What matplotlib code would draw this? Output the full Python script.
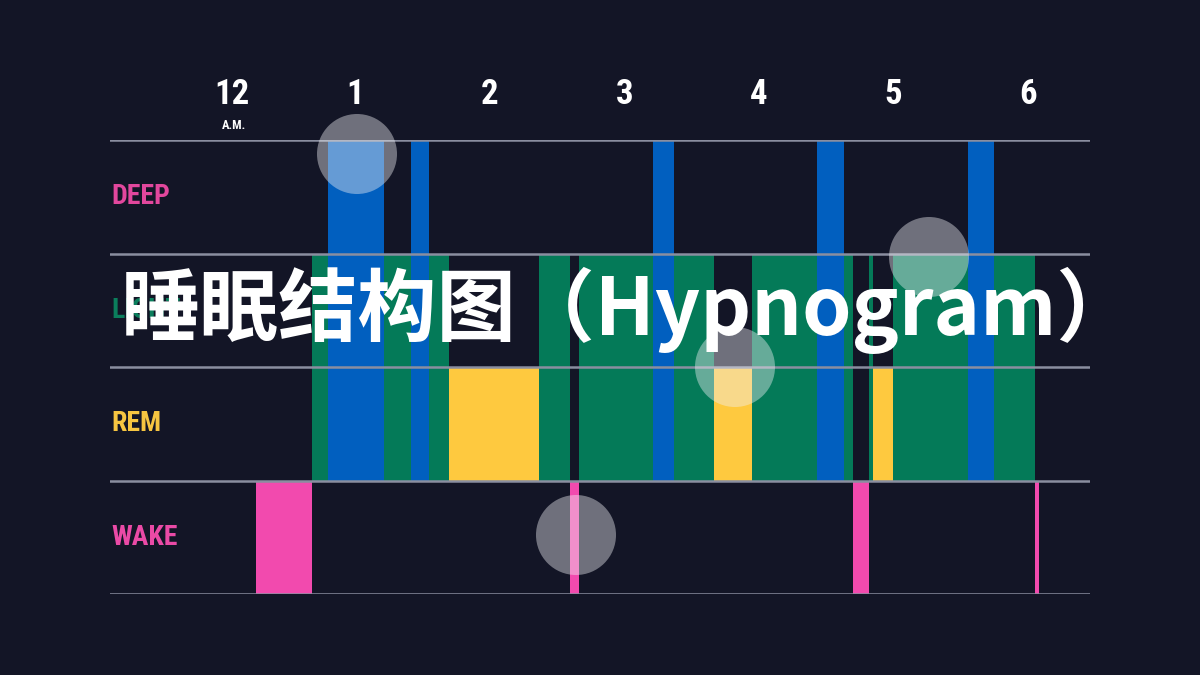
import matplotlib
matplotlib.use("Agg")
import matplotlib.pyplot as plt
from matplotlib import font_manager
from matplotlib.patches import Circle
import matplotlib.transforms as mtransforms

# --- data: sleep stage segments, minutes after midnight ---
stages = ['WAKE', 'LIGHT', 'DEEP', 'LIGHT', 'DEEP', 'LIGHT', 'REM', 'LIGHT',
          'WAKE', 'LIGHT', 'DEEP', 'LIGHT', 'REM', 'LIGHT', 'DEEP', 'LIGHT',
          'WAKE', 'LIGHT', 'REM', 'LIGHT', 'DEEP', 'LIGHT', 'WAKE']
seg_start = [16, 41, 48, 73, 85, 93, 102, 142, 156, 160, 193, 202, 220,
             237, 266, 278, 282, 289, 291, 300, 333, 345, 363]
seg_end = seg_start[1:] + [365]

row_names = ['WAKE', 'REM', 'LIGHT', 'DEEP']
hour_labels = ['12', '1', '2', '3', '4', '5', '6']
hour_ticks = [5, 60, 120, 180, 240, 300, 360]

# --- style ---
bg = '#131526'
grid_c = '#8a8ea0'
stage_colors = {'DEEP': '#015fbf', 'LIGHT': '#047a58', 'REM': '#fec93f', 'WAKE': '#f24aae'}
label_colors = {'DEEP': '#e2479d', 'LIGHT': '#0b7e5c', 'REM': '#f6c541', 'WAKE': '#ea4aa6'}

names = {f.name for f in font_manager.fontManager.ttflist}
cond = 'DejaVu Sans'
for cand in ['Liberation Sans Narrow', 'Roboto Condensed', 'Open Sans Condensed']:
    if cand in names:
        cond = cand
        break

fig = plt.figure(figsize=(12, 6.75), dpi=100)
fig.patch.set_facecolor(bg)
ax = fig.add_axes([110 / 1200, 1 - 594 / 675, 980 / 1200, 454 / 675])
ax.set_facecolor(bg)
ax.set_xlim(-49.2, 387.6)
ax.set_ylim(0, 4)
ax.axis('off')

# row boundaries
for y in range(5):
    ax.axhline(y, color=grid_c, lw=1.8, zorder=3)

# stage bars: sleep stages fill down to the wake line, wake fills its own row
for st, s, e in zip(stages, seg_start, seg_end):
    top = row_names.index(st) + 1
    bottom = 0 if st == 'WAKE' else 1
    ax.bar(s, top - bottom, width=e - s, bottom=bottom, align='edge',
           color=stage_colors[st], linewidth=0, zorder=2)

# row labels
for i, name in enumerate(row_names):
    ax.text(-48.5, i + 0.5, name, color=label_colors[name], fontsize=20,
            family=cond, fontweight='bold', ha='left', va='center')

# hour labels
trans = mtransforms.blended_transform_factory(ax.transData, ax.transAxes)
for t, lab in zip(hour_ticks, hour_labels):
    ax.text(t, 1.1, lab, color='white', fontsize=25, family=cond,
            fontweight='bold', ha='center', va='center', transform=trans)
ax.text(hour_ticks[0] + 1, 1.032, 'A.M.', color='white', fontsize=9, family=cond,
        fontweight='bold', ha='center', va='center', transform=trans)

# touch-indicator circles (overlay in pixel space)
ov = fig.add_axes([0, 0, 1, 1], zorder=5)
ov.set_xlim(0, 1200)
ov.set_ylim(675, 0)
ov.axis('off')
ov.patch.set_alpha(0)
for cx, cy in [(357, 154), (929, 257), (735, 367), (576, 535)]:
    ov.add_patch(Circle((cx, cy), 40, facecolor='#f0f0f5', alpha=0.42, lw=0))

# title overlay
ov.text(628, 335, '睡眠结构图（Hypnogram）', color='white', fontsize=57,
        fontweight='bold', family=['Noto Sans CJK SC', 'DejaVu Sans'],
        ha='center', va='baseline', zorder=10)

fig.savefig('out.png', dpi=100, facecolor=bg)
